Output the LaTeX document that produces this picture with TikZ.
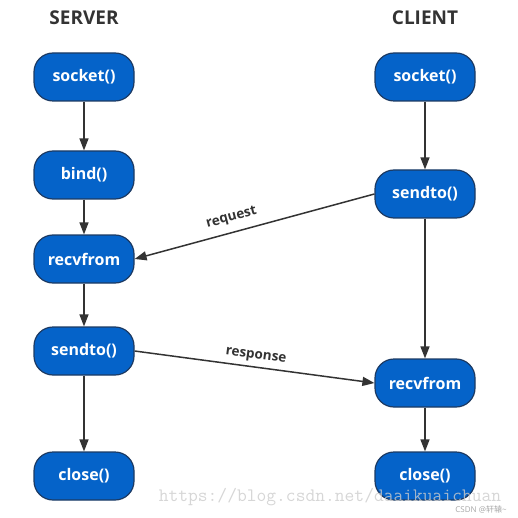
\documentclass[tikz,border=0pt]{standalone}
\usepackage{fontspec}
\setmainfont{Open Sans}
\newfontfamily\cjk{Noto Sans CJK SC}
\usetikzlibrary{arrows.meta}
\definecolor{callblue}{HTML}{0563C9}
\definecolor{calledge}{HTML}{1C3A63}
\definecolor{ink}{HTML}{333333}

\begin{document}
\begin{tikzpicture}[x=1pt, y=-1pt,
    call/.style={draw=calledge, line width=1.2pt, fill=callblue, rounded corners=19pt,
      minimum width=100pt, minimum height=48pt, inner sep=0pt,
      text=white, font=\bfseries\fontsize{16}{16}\selectfont},
    flow/.style={draw=ink, line width=1.5pt, -{Triangle[length=12pt,width=9pt]}},
    side/.style={text=ink, font=\bfseries\fontsize{19}{19}\selectfont},
    msg/.style={text=ink, sloped, font=\bfseries\fontsize{13.5}{13.5}\selectfont}]
  \useasboundingbox (0,0) rectangle (518,518);

  % server side
  \node[side] (Server) at (84, 18) {SERVER};
  \node[call] (Ssock)  at (84, 77)  {socket()};
  \node[call] (Sbind)  at (84, 175) {bind()};
  \node[call] (Srecv)  at (84, 259) {recvfrom};
  \node[call] (Ssend)  at (84, 351) {sendto()};
  \node[call] (Sclose) at (84, 476) {close()};
  \draw[flow] (Ssock) -- (Sbind);
  \draw[flow] (Sbind) -- (Srecv);
  \draw[flow] (Srecv) -- (Ssend);
  \draw[flow] (Ssend) -- (Sclose);

  % client side
  \node[side] (Client) at (425, 18) {CLIENT};
  \node[call] (Csock)  at (425, 77)  {socket()};
  \node[call] (Csend)  at (425, 194) {sendto()};
  \node[call] (Crecv)  at (425, 383) {recvfrom};
  \node[call] (Cclose) at (425, 476) {close()};
  \draw[flow] (Csock) -- (Csend);
  \draw[flow] (Csend) -- (Crecv);
  \draw[flow] (Crecv) -- (Cclose);

  % messages
  \draw[flow] (Csend.west) -- (Srecv.east) node[msg, pos=0.58, above=4pt] {request};
  \draw[flow] (Ssend.east) -- (Crecv.west) node[msg, pos=0.5, above=1pt] {response};

  % watermark
  \node[text=gray!40, opacity=0.8, font=\ttfamily\fontsize{19}{19}\selectfont] (Mark) at (330, 497) {https://blog.csdn.net/daaikuaichuan};
  \node[text=gray!70, font=\fontsize{8}{8}\selectfont] (Tag) at (481, 509) {CSDN @{\cjk 轩辕}\textasciitilde};
\end{tikzpicture}
\end{document}
